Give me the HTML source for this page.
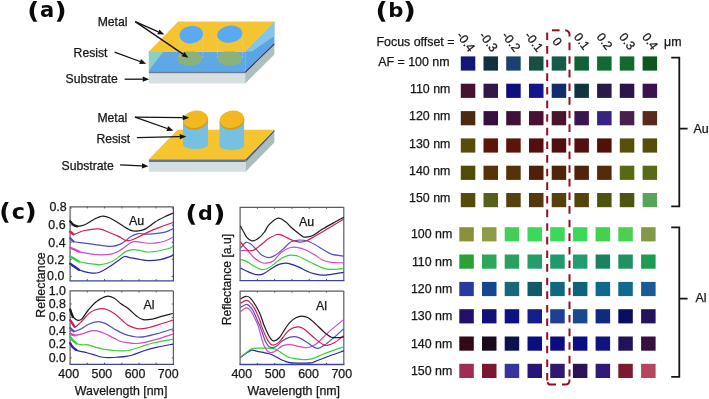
<!DOCTYPE html>
<html><head><meta charset="utf-8"><title>Figure</title>
<style>
html,body{margin:0;padding:0;background:#fff;}
body{width:709px;height:399px;overflow:hidden;}
svg{display:block;}
.t{font-family:"Liberation Sans",Arial,sans-serif;font-size:12.4px;fill:#151515;stroke:#151515;stroke-width:0.25px;}
.pl{font-family:"DejaVu Sans",sans-serif;font-weight:bold;fill:#0a0a0a;}
</style></head><body>
<svg width="709" height="399" viewBox="0 0 709 399">
<rect width="709" height="399" fill="#fff"/>
<g id="pa">
<!-- top block -->
<polygon points="148.9,51.4 245.2,51.4 245.2,71.3 148.9,71.3" fill="#5ea8e6"/>
<polygon points="148.9,51.4 163.5,51.4 148.9,70.5" fill="#8ccfc6"/>
<polygon points="245.2,51.4 274.4,21.6 274.4,42.8 245.2,71.3" fill="#5aa6e4"/>
<polygon points="245.2,51.4 274.4,21.6 274.4,36 252,51.4" fill="#84c6ea"/>
<ellipse cx="189.6" cy="58.4" rx="12.3" ry="7.6" fill="#88b27a"/>
<ellipse cx="229.8" cy="58.4" rx="12.3" ry="7.6" fill="#88b27a"/>
<polygon points="148.9,71.3 245.2,71.3 245.2,73.4 148.9,73.4" fill="#6a7890"/>
<polygon points="245.2,71.3 274.4,42.8 274.4,45 245.2,73.4" fill="#283c80"/>
<polygon points="148.9,73.4 245.2,73.4 245.2,83.6 148.9,83.6" fill="#d6e0e2"/>
<polygon points="245.2,73.4 274.4,45 274.4,54.5 245.2,83.6" fill="#aebfc0"/>
<polygon points="148.9,51.4 178.3,21.6 274.4,21.6 245.2,51.4" fill="#f6c430"/>
<g stroke="#d8d0b0" stroke-width="0.7" stroke-dasharray="2 1.5" fill="none"><line x1="179.8" y1="35" x2="179.8" y2="51"/><line x1="202.8" y1="33" x2="202.8" y2="51"/><line x1="217.4" y1="35" x2="217.4" y2="51"/><line x1="242.3" y1="33" x2="242.3" y2="51"/></g>
<g stroke="#b8c8d8" stroke-width="0.7" stroke-dasharray="2 1.5" fill="none"><line x1="179.8" y1="52" x2="179.8" y2="58"/><line x1="202.8" y1="52" x2="202.8" y2="58"/><line x1="217.4" y1="52" x2="217.4" y2="58"/><line x1="242.3" y1="52" x2="242.3" y2="58"/></g>
<ellipse cx="191.3" cy="34.6" rx="11.8" ry="8.8" fill="#58aaf2" transform="rotate(-8 191.3 34.6)"/>
<ellipse cx="229.8" cy="34.2" rx="12.6" ry="8.5" fill="#58aaf2" transform="rotate(-8 229.8 34.2)"/>
<!-- bottom block -->
<polygon points="148.9,159.3 245.6,159.3 245.6,162 148.9,162" fill="#5a76a0"/>
<polygon points="148.9,162 245.6,162 245.6,171.7 148.9,171.7" fill="#d4dede"/>
<polygon points="245.6,159.3 274.3,129.7 274.3,142.5 245.6,171.7" fill="#aabcbc"/>
<polygon points="245.6,159.3 274.3,129.7 274.3,131.8 245.6,162" fill="#4a6070"/>
<polygon points="148.9,159.3 177.5,129.7 274.3,129.7 245.6,159.3" fill="#f6c430"/>
<path d="M183,121 V144.5 A12.5,4.5 0 0 0 208,144.5 V121 Z" fill="#76c0e2"/>
<path d="M219.5,121 V145.5 A12.3,4.5 0 0 0 244.1,145.5 V121 Z" fill="#76c0e2"/>
<ellipse cx="195.6" cy="120.8" rx="12.6" ry="8.8" fill="#d69a20" transform="rotate(-10 195.6 120.8)"/>
<ellipse cx="195.3" cy="119.2" rx="12.4" ry="8.6" fill="#f3b820" transform="rotate(-10 195.3 119.2)"/>
<ellipse cx="232.1" cy="120.8" rx="12.4" ry="8.8" fill="#d69a20" transform="rotate(-10 232.1 120.8)"/>
<ellipse cx="231.8" cy="119.2" rx="12.2" ry="8.6" fill="#f3b820" transform="rotate(-10 231.8 119.2)"/>
<line x1="135.2" y1="21.6" x2="158.4" y2="31.9" stroke="#111" stroke-width="1.3"/><polygon points="164.3,34.5 157.3,34.2 159.4,29.5" fill="#111"/>
<line x1="135.2" y1="21.6" x2="183.0" y2="54.1" stroke="#111" stroke-width="1.3"/><polygon points="188.4,57.7 181.6,56.2 184.5,51.9" fill="#111"/>
<line x1="114.6" y1="52.1" x2="140.1" y2="61.5" stroke="#111" stroke-width="1.3"/><polygon points="146.2,63.8 139.2,64.0 141.0,59.1" fill="#111"/>
<line x1="124.6" y1="79.2" x2="142.7" y2="79.2" stroke="#111" stroke-width="1.3"/><polygon points="149.2,79.2 142.7,81.8 142.7,76.6" fill="#111"/>
<line x1="134.9" y1="117.2" x2="182.7" y2="117.7" stroke="#111" stroke-width="1.3"/><polygon points="189.2,117.8 182.7,120.3 182.7,115.1" fill="#111"/>
<line x1="134.9" y1="117.2" x2="167.3" y2="128.5" stroke="#111" stroke-width="1.3"/><polygon points="173.4,130.7 166.4,131.0 168.1,126.1" fill="#111"/>
<line x1="136.9" y1="137.6" x2="179.8" y2="136.7" stroke="#111" stroke-width="1.3"/><polygon points="186.3,136.6 179.9,139.3 179.7,134.1" fill="#111"/>
<line x1="120.1" y1="164.8" x2="142.0" y2="165.9" stroke="#111" stroke-width="1.3"/><polygon points="148.5,166.2 141.9,168.5 142.1,163.3" fill="#111"/></g>
<g class="t" style="font-size:12.2px">
<text x="97.7" y="26">Metal</text>
<text x="73.6" y="56.5">Resist</text>
<text x="65.6" y="83.2">Substrate</text>
<text x="97.4" y="122.2">Metal</text>
<text x="96.4" y="142.5">Resist</text>
<text x="61.5" y="169.8">Substrate</text>
</g>
<g id="grid"><rect x="460.8" y="56.4" width="14.5" height="14.2" fill="#14167a"/>
<rect x="459.3" y="227.2" width="14.5" height="14.2" fill="#8a9038"/>
<rect x="483.5" y="56.4" width="14.5" height="14.2" fill="#123040"/>
<rect x="482.0" y="227.2" width="14.5" height="14.2" fill="#8e9c46"/>
<rect x="506.2" y="56.4" width="14.5" height="14.2" fill="#1a4070"/>
<rect x="504.7" y="227.2" width="14.5" height="14.2" fill="#46cc58"/>
<rect x="529.0" y="56.4" width="14.5" height="14.2" fill="#155040"/>
<rect x="527.5" y="227.2" width="14.5" height="14.2" fill="#3cd85a"/>
<rect x="551.7" y="56.4" width="14.5" height="14.2" fill="#135c48"/>
<rect x="550.2" y="227.2" width="14.5" height="14.2" fill="#3cd85a"/>
<rect x="574.4" y="56.4" width="14.5" height="14.2" fill="#0e6234"/>
<rect x="572.9" y="227.2" width="14.5" height="14.2" fill="#3cd85a"/>
<rect x="597.1" y="56.4" width="14.5" height="14.2" fill="#106a32"/>
<rect x="595.6" y="227.2" width="14.5" height="14.2" fill="#44d050"/>
<rect x="619.8" y="56.4" width="14.5" height="14.2" fill="#126a30"/>
<rect x="618.3" y="227.2" width="14.5" height="14.2" fill="#4cd050"/>
<rect x="642.6" y="56.4" width="14.5" height="14.2" fill="#0e5620"/>
<rect x="641.1" y="227.2" width="14.5" height="14.2" fill="#829a48"/>
<rect x="460.8" y="83.7" width="14.5" height="14.2" fill="#461230"/>
<rect x="459.3" y="254.5" width="14.5" height="14.2" fill="#28a232"/>
<rect x="483.5" y="83.7" width="14.5" height="14.2" fill="#321846"/>
<rect x="482.0" y="254.5" width="14.5" height="14.2" fill="#2ca858"/>
<rect x="506.2" y="83.7" width="14.5" height="14.2" fill="#0e0e7e"/>
<rect x="504.7" y="254.5" width="14.5" height="14.2" fill="#28a060"/>
<rect x="529.0" y="83.7" width="14.5" height="14.2" fill="#12168a"/>
<rect x="527.5" y="254.5" width="14.5" height="14.2" fill="#249c6c"/>
<rect x="551.7" y="83.7" width="14.5" height="14.2" fill="#122c70"/>
<rect x="550.2" y="254.5" width="14.5" height="14.2" fill="#209a6c"/>
<rect x="574.4" y="83.7" width="14.5" height="14.2" fill="#103440"/>
<rect x="572.9" y="254.5" width="14.5" height="14.2" fill="#229c70"/>
<rect x="597.1" y="83.7" width="14.5" height="14.2" fill="#2a1a48"/>
<rect x="595.6" y="254.5" width="14.5" height="14.2" fill="#1a8262"/>
<rect x="619.8" y="83.7" width="14.5" height="14.2" fill="#2a1448"/>
<rect x="618.3" y="254.5" width="14.5" height="14.2" fill="#1e9260"/>
<rect x="642.6" y="83.7" width="14.5" height="14.2" fill="#3a1250"/>
<rect x="641.1" y="254.5" width="14.5" height="14.2" fill="#1e9c50"/>
<rect x="460.8" y="111.1" width="14.5" height="14.2" fill="#4c2a10"/>
<rect x="459.3" y="281.9" width="14.5" height="14.2" fill="#283aa0"/>
<rect x="483.5" y="111.1" width="14.5" height="14.2" fill="#381040"/>
<rect x="482.0" y="281.9" width="14.5" height="14.2" fill="#14488e"/>
<rect x="506.2" y="111.1" width="14.5" height="14.2" fill="#40103a"/>
<rect x="504.7" y="281.9" width="14.5" height="14.2" fill="#186678"/>
<rect x="529.0" y="111.1" width="14.5" height="14.2" fill="#4a1030"/>
<rect x="527.5" y="281.9" width="14.5" height="14.2" fill="#105a6c"/>
<rect x="551.7" y="111.1" width="14.5" height="14.2" fill="#4a1428"/>
<rect x="550.2" y="281.9" width="14.5" height="14.2" fill="#106880"/>
<rect x="574.4" y="111.1" width="14.5" height="14.2" fill="#3a1450"/>
<rect x="572.9" y="281.9" width="14.5" height="14.2" fill="#106478"/>
<rect x="597.1" y="111.1" width="14.5" height="14.2" fill="#382480"/>
<rect x="595.6" y="281.9" width="14.5" height="14.2" fill="#10688a"/>
<rect x="619.8" y="111.1" width="14.5" height="14.2" fill="#48204e"/>
<rect x="618.3" y="281.9" width="14.5" height="14.2" fill="#106a90"/>
<rect x="642.6" y="111.1" width="14.5" height="14.2" fill="#5a2a1c"/>
<rect x="641.1" y="281.9" width="14.5" height="14.2" fill="#185a94"/>
<rect x="460.8" y="138.4" width="14.5" height="14.2" fill="#584c0a"/>
<rect x="459.3" y="309.2" width="14.5" height="14.2" fill="#24106a"/>
<rect x="483.5" y="138.4" width="14.5" height="14.2" fill="#5c1608"/>
<rect x="482.0" y="309.2" width="14.5" height="14.2" fill="#10127a"/>
<rect x="506.2" y="138.4" width="14.5" height="14.2" fill="#5a1408"/>
<rect x="504.7" y="309.2" width="14.5" height="14.2" fill="#0e1280"/>
<rect x="529.0" y="138.4" width="14.5" height="14.2" fill="#540e0e"/>
<rect x="527.5" y="309.2" width="14.5" height="14.2" fill="#14208a"/>
<rect x="551.7" y="138.4" width="14.5" height="14.2" fill="#520e0e"/>
<rect x="550.2" y="309.2" width="14.5" height="14.2" fill="#1a4098"/>
<rect x="574.4" y="138.4" width="14.5" height="14.2" fill="#52100e"/>
<rect x="572.9" y="309.2" width="14.5" height="14.2" fill="#184890"/>
<rect x="597.1" y="138.4" width="14.5" height="14.2" fill="#52100a"/>
<rect x="595.6" y="309.2" width="14.5" height="14.2" fill="#102a80"/>
<rect x="619.8" y="138.4" width="14.5" height="14.2" fill="#56500a"/>
<rect x="618.3" y="309.2" width="14.5" height="14.2" fill="#0a0e60"/>
<rect x="642.6" y="138.4" width="14.5" height="14.2" fill="#544e0a"/>
<rect x="641.1" y="309.2" width="14.5" height="14.2" fill="#241460"/>
<rect x="460.8" y="165.7" width="14.5" height="14.2" fill="#504c08"/>
<rect x="459.3" y="336.5" width="14.5" height="14.2" fill="#340818"/>
<rect x="483.5" y="165.7" width="14.5" height="14.2" fill="#583208"/>
<rect x="482.0" y="336.5" width="14.5" height="14.2" fill="#1a0a1a"/>
<rect x="506.2" y="165.7" width="14.5" height="14.2" fill="#563208"/>
<rect x="504.7" y="336.5" width="14.5" height="14.2" fill="#0c1250"/>
<rect x="529.0" y="165.7" width="14.5" height="14.2" fill="#52200a"/>
<rect x="527.5" y="336.5" width="14.5" height="14.2" fill="#0a0e7e"/>
<rect x="551.7" y="165.7" width="14.5" height="14.2" fill="#502408"/>
<rect x="550.2" y="336.5" width="14.5" height="14.2" fill="#0a0c80"/>
<rect x="574.4" y="165.7" width="14.5" height="14.2" fill="#502408"/>
<rect x="572.9" y="336.5" width="14.5" height="14.2" fill="#0a0e80"/>
<rect x="597.1" y="165.7" width="14.5" height="14.2" fill="#542a08"/>
<rect x="595.6" y="336.5" width="14.5" height="14.2" fill="#101480"/>
<rect x="619.8" y="165.7" width="14.5" height="14.2" fill="#586a10"/>
<rect x="618.3" y="336.5" width="14.5" height="14.2" fill="#22125a"/>
<rect x="642.6" y="165.7" width="14.5" height="14.2" fill="#586a16"/>
<rect x="641.1" y="336.5" width="14.5" height="14.2" fill="#381040"/>
<rect x="460.8" y="193.0" width="14.5" height="14.2" fill="#544c08"/>
<rect x="459.3" y="363.8" width="14.5" height="14.2" fill="#a02c50"/>
<rect x="483.5" y="193.0" width="14.5" height="14.2" fill="#56601a"/>
<rect x="482.0" y="363.8" width="14.5" height="14.2" fill="#7a1830"/>
<rect x="506.2" y="193.0" width="14.5" height="14.2" fill="#54420a"/>
<rect x="504.7" y="363.8" width="14.5" height="14.2" fill="#3634a0"/>
<rect x="529.0" y="193.0" width="14.5" height="14.2" fill="#543a0a"/>
<rect x="527.5" y="363.8" width="14.5" height="14.2" fill="#2a1478"/>
<rect x="551.7" y="193.0" width="14.5" height="14.2" fill="#54420a"/>
<rect x="550.2" y="363.8" width="14.5" height="14.2" fill="#301870"/>
<rect x="574.4" y="193.0" width="14.5" height="14.2" fill="#54460a"/>
<rect x="572.9" y="363.8" width="14.5" height="14.2" fill="#2a1258"/>
<rect x="597.1" y="193.0" width="14.5" height="14.2" fill="#4e5410"/>
<rect x="595.6" y="363.8" width="14.5" height="14.2" fill="#301a78"/>
<rect x="619.8" y="193.0" width="14.5" height="14.2" fill="#4e5412"/>
<rect x="618.3" y="363.8" width="14.5" height="14.2" fill="#7c1a30"/>
<rect x="642.6" y="193.0" width="14.5" height="14.2" fill="#58a45a"/>
<rect x="641.1" y="363.8" width="14.5" height="14.2" fill="#b44660"/></g>
<g fill="none" stroke="#920e24" stroke-width="2"><line x1="547.2" y1="32.5" x2="547.2" y2="380.8" stroke-dasharray="7.6 6.02"/><line x1="569.5" y1="42.6" x2="569.5" y2="376.6" stroke-dasharray="7.6 6.02"/><line x1="552" y1="30.3" x2="559.6" y2="30.3"/><path d="M565.2,30.3 A4.3,4.3 0 0 1 569.5,34.6 V36.6"/><path d="M547.6,382.2 Q548.2,384.6 550,384.6 H556"/><path d="M562,384.6 H565.5 A4,4 0 0 0 569.5,380.6 V379.5"/></g>
<path d="M671.2,57.6 H679.3 V206.3 H671.2 M679.3,128.6 H687.6" fill="none" stroke="#151515" stroke-width="1.8"/>
<path d="M671.2,227.3 H679.3 V376.8 H671.2 M679.3,298.6 H687.6" fill="none" stroke="#151515" stroke-width="1.8"/>
<g class="t"><text x="449.5" y="65.8" text-anchor="end">AF = 100 nm</text>
<text x="452.3" y="238.2" text-anchor="end">100 nm</text>
<text x="450.4" y="93.0" text-anchor="end">110 nm</text>
<text x="452.3" y="265.5" text-anchor="end">110 nm</text>
<text x="450.4" y="120.4" text-anchor="end">120 nm</text>
<text x="452.3" y="292.9" text-anchor="end">120 nm</text>
<text x="450.4" y="147.7" text-anchor="end">130 nm</text>
<text x="452.3" y="320.2" text-anchor="end">130 nm</text>
<text x="450.4" y="175.0" text-anchor="end">140 nm</text>
<text x="452.3" y="347.5" text-anchor="end">140 nm</text>
<text x="450.4" y="202.3" text-anchor="end">150 nm</text>
<text x="452.3" y="374.8" text-anchor="end">150 nm</text>
<text x="376.5" y="45.9">Focus offset =</text>
<text transform="translate(455.9,35.8) rotate(52)" x="0" y="0">-0.4</text>
<text transform="translate(478.6,35.8) rotate(52)" x="0" y="0">-0.3</text>
<text transform="translate(501.3,35.8) rotate(52)" x="0" y="0">-0.2</text>
<text transform="translate(524.1,35.8) rotate(52)" x="0" y="0">-0.1</text>
<text transform="translate(551.7,41.5) rotate(52)" x="0" y="0">0</text>
<text transform="translate(573.2,37.0) rotate(52)" x="0" y="0">0.1</text>
<text transform="translate(595.9,37.0) rotate(52)" x="0" y="0">0.2</text>
<text transform="translate(618.6,37.0) rotate(52)" x="0" y="0">0.3</text>
<text transform="translate(641.4,37.0) rotate(52)" x="0" y="0">0.4</text>
<text x="664" y="46">μm</text>
<text x="693.6" y="133">Au</text>
<text x="695.6" y="301.8">Al</text></g>
<g id="plots"><path d="M70.1,280.8 V206.8 H173.4" fill="none" stroke="#5a5a62" stroke-width="1.2"/><line x1="173.4" y1="206.8" x2="173.4" y2="280.8" stroke="#3c44a0" stroke-width="1.2"/><line x1="69.5" y1="280.8" x2="174.0" y2="280.8" stroke="#3c44a0" stroke-width="1.3"/><line x1="87.3" y1="206.8" x2="87.3" y2="208.4" stroke="#5a5a62" stroke-width="1"/><line x1="87.3" y1="280.8" x2="87.3" y2="279.2" stroke="#3c44a0" stroke-width="1"/><line x1="104.5" y1="206.8" x2="104.5" y2="208.4" stroke="#5a5a62" stroke-width="1"/><line x1="104.5" y1="280.8" x2="104.5" y2="279.2" stroke="#3c44a0" stroke-width="1"/><line x1="121.8" y1="206.8" x2="121.8" y2="208.4" stroke="#5a5a62" stroke-width="1"/><line x1="121.8" y1="280.8" x2="121.8" y2="279.2" stroke="#3c44a0" stroke-width="1"/><line x1="139.0" y1="206.8" x2="139.0" y2="208.4" stroke="#5a5a62" stroke-width="1"/><line x1="139.0" y1="280.8" x2="139.0" y2="279.2" stroke="#3c44a0" stroke-width="1"/><line x1="156.2" y1="206.8" x2="156.2" y2="208.4" stroke="#5a5a62" stroke-width="1"/><line x1="156.2" y1="280.8" x2="156.2" y2="279.2" stroke="#3c44a0" stroke-width="1"/><path d="M70.1,364.4 V290.9 H173.4" fill="none" stroke="#5a5a62" stroke-width="1.2"/><line x1="173.4" y1="290.9" x2="173.4" y2="364.4" stroke="#5a5a62" stroke-width="1.2"/><line x1="69.5" y1="364.4" x2="174.0" y2="364.4" stroke="#3c44a0" stroke-width="1.3"/><line x1="87.3" y1="290.9" x2="87.3" y2="292.5" stroke="#5a5a62" stroke-width="1"/><line x1="87.3" y1="364.4" x2="87.3" y2="362.8" stroke="#3c44a0" stroke-width="1"/><line x1="104.5" y1="290.9" x2="104.5" y2="292.5" stroke="#5a5a62" stroke-width="1"/><line x1="104.5" y1="364.4" x2="104.5" y2="362.8" stroke="#3c44a0" stroke-width="1"/><line x1="121.8" y1="290.9" x2="121.8" y2="292.5" stroke="#5a5a62" stroke-width="1"/><line x1="121.8" y1="364.4" x2="121.8" y2="362.8" stroke="#3c44a0" stroke-width="1"/><line x1="139.0" y1="290.9" x2="139.0" y2="292.5" stroke="#5a5a62" stroke-width="1"/><line x1="139.0" y1="364.4" x2="139.0" y2="362.8" stroke="#3c44a0" stroke-width="1"/><line x1="156.2" y1="290.9" x2="156.2" y2="292.5" stroke="#5a5a62" stroke-width="1"/><line x1="156.2" y1="364.4" x2="156.2" y2="362.8" stroke="#3c44a0" stroke-width="1"/><path d="M240.1,280.6 V207.3 H343.8" fill="none" stroke="#5a5a62" stroke-width="1.2"/><line x1="343.8" y1="207.3" x2="343.8" y2="280.6" stroke="#5a5a70" stroke-width="1.2"/><line x1="239.5" y1="280.6" x2="344.4" y2="280.6" stroke="#3c44a0" stroke-width="1.3"/><line x1="257.4" y1="207.3" x2="257.4" y2="208.9" stroke="#5a5a62" stroke-width="1"/><line x1="257.4" y1="280.6" x2="257.4" y2="279.0" stroke="#3c44a0" stroke-width="1"/><line x1="274.7" y1="207.3" x2="274.7" y2="208.9" stroke="#5a5a62" stroke-width="1"/><line x1="274.7" y1="280.6" x2="274.7" y2="279.0" stroke="#3c44a0" stroke-width="1"/><line x1="291.9" y1="207.3" x2="291.9" y2="208.9" stroke="#5a5a62" stroke-width="1"/><line x1="291.9" y1="280.6" x2="291.9" y2="279.0" stroke="#3c44a0" stroke-width="1"/><line x1="309.2" y1="207.3" x2="309.2" y2="208.9" stroke="#5a5a62" stroke-width="1"/><line x1="309.2" y1="280.6" x2="309.2" y2="279.0" stroke="#3c44a0" stroke-width="1"/><line x1="326.5" y1="207.3" x2="326.5" y2="208.9" stroke="#5a5a62" stroke-width="1"/><line x1="326.5" y1="280.6" x2="326.5" y2="279.0" stroke="#3c44a0" stroke-width="1"/><path d="M240.1,364.5 V291.1 H343.8" fill="none" stroke="#5a5a62" stroke-width="1.2"/><line x1="343.8" y1="291.1" x2="343.8" y2="364.5" stroke="#5a5a70" stroke-width="1.2"/><line x1="239.5" y1="364.5" x2="344.4" y2="364.5" stroke="#3c44a0" stroke-width="1.3"/><line x1="257.4" y1="291.1" x2="257.4" y2="292.7" stroke="#5a5a62" stroke-width="1"/><line x1="257.4" y1="364.5" x2="257.4" y2="362.9" stroke="#3c44a0" stroke-width="1"/><line x1="274.7" y1="291.1" x2="274.7" y2="292.7" stroke="#5a5a62" stroke-width="1"/><line x1="274.7" y1="364.5" x2="274.7" y2="362.9" stroke="#3c44a0" stroke-width="1"/><line x1="291.9" y1="291.1" x2="291.9" y2="292.7" stroke="#5a5a62" stroke-width="1"/><line x1="291.9" y1="364.5" x2="291.9" y2="362.9" stroke="#3c44a0" stroke-width="1"/><line x1="309.2" y1="291.1" x2="309.2" y2="292.7" stroke="#5a5a62" stroke-width="1"/><line x1="309.2" y1="364.5" x2="309.2" y2="362.9" stroke="#3c44a0" stroke-width="1"/><line x1="326.5" y1="291.1" x2="326.5" y2="292.7" stroke="#5a5a62" stroke-width="1"/><line x1="326.5" y1="364.5" x2="326.5" y2="362.9" stroke="#3c44a0" stroke-width="1"/><line x1="70.1" y1="276.4" x2="71.7" y2="276.4" stroke="#5a5a62" stroke-width="1"/><line x1="173.4" y1="276.4" x2="171.8" y2="276.4" stroke="#3c44a0" stroke-width="1"/><line x1="70.1" y1="259.3" x2="71.7" y2="259.3" stroke="#5a5a62" stroke-width="1"/><line x1="173.4" y1="259.3" x2="171.8" y2="259.3" stroke="#3c44a0" stroke-width="1"/><line x1="70.1" y1="242.2" x2="71.7" y2="242.2" stroke="#5a5a62" stroke-width="1"/><line x1="173.4" y1="242.2" x2="171.8" y2="242.2" stroke="#3c44a0" stroke-width="1"/><line x1="70.1" y1="225.1" x2="71.7" y2="225.1" stroke="#5a5a62" stroke-width="1"/><line x1="173.4" y1="225.1" x2="171.8" y2="225.1" stroke="#3c44a0" stroke-width="1"/><line x1="70.1" y1="208.0" x2="71.7" y2="208.0" stroke="#5a5a62" stroke-width="1"/><line x1="173.4" y1="208.0" x2="171.8" y2="208.0" stroke="#3c44a0" stroke-width="1"/><line x1="70.1" y1="357.9" x2="71.7" y2="357.9" stroke="#5a5a62" stroke-width="1"/><line x1="173.4" y1="357.9" x2="171.8" y2="357.9" stroke="#5a5a62" stroke-width="1"/><line x1="70.1" y1="344.4" x2="71.7" y2="344.4" stroke="#5a5a62" stroke-width="1"/><line x1="173.4" y1="344.4" x2="171.8" y2="344.4" stroke="#5a5a62" stroke-width="1"/><line x1="70.1" y1="330.9" x2="71.7" y2="330.9" stroke="#5a5a62" stroke-width="1"/><line x1="173.4" y1="330.9" x2="171.8" y2="330.9" stroke="#5a5a62" stroke-width="1"/><line x1="70.1" y1="317.5" x2="71.7" y2="317.5" stroke="#5a5a62" stroke-width="1"/><line x1="173.4" y1="317.5" x2="171.8" y2="317.5" stroke="#5a5a62" stroke-width="1"/><line x1="70.1" y1="304.0" x2="71.7" y2="304.0" stroke="#5a5a62" stroke-width="1"/><line x1="173.4" y1="304.0" x2="171.8" y2="304.0" stroke="#5a5a62" stroke-width="1"/><path d="M70.2,263.7 C71.7,264.7 75.7,268.3 79.0,269.8 C82.3,271.3 86.7,272.4 90.0,272.9 C93.3,273.3 95.6,273.6 98.9,272.5 C102.2,271.4 106.8,268.4 109.9,266.5 C113.0,264.6 115.2,262.7 117.6,261.0 C120.0,259.3 122.3,257.1 124.3,256.5 C126.3,255.9 127.2,257.1 129.8,257.6 C132.4,258.1 136.9,259.0 140.0,259.5 C143.1,260.0 144.7,260.6 148.1,260.6 C151.5,260.6 156.5,260.3 160.2,259.6 C163.9,258.9 168.0,257.4 170.2,256.6 C172.4,255.8 172.7,254.9 173.2,254.6" fill="none" stroke="#2828a8" stroke-width="1.2"/><path d="M70.2,263.7 C71.7,264.7 77.5,268.8 79.0,269.8" fill="none" stroke="#2828a8" stroke-width="2.3" stroke-linecap="round"/><path d="M70.2,256.5 C71.7,257.3 75.7,260.3 79.0,261.5 C82.3,262.7 86.3,263.2 90.0,263.7 C93.7,264.2 97.4,264.9 101.1,264.5 C104.8,264.1 109.0,262.9 112.1,261.5 C115.2,260.1 117.6,257.6 119.8,256.0 C122.0,254.3 123.2,252.7 125.4,251.6 C127.6,250.5 130.7,249.9 133.1,249.7 C135.5,249.5 137.5,250.1 140.0,250.5 C142.5,250.9 144.7,252.0 148.1,252.0 C151.5,252.0 156.5,251.2 160.2,250.5 C163.9,249.8 168.0,248.8 170.2,248.0 C172.4,247.2 172.7,246.3 173.2,246.0" fill="none" stroke="#38d038" stroke-width="1.2"/><path d="M70.2,256.5 C71.7,257.3 77.5,260.7 79.0,261.5" fill="none" stroke="#38d038" stroke-width="2.3" stroke-linecap="round"/><path d="M70.2,247.7 C71.7,248.3 75.7,250.6 79.0,251.6 C82.3,252.6 86.3,253.2 90.0,253.8 C93.7,254.4 97.4,254.9 101.1,254.9 C104.8,254.9 109.0,254.5 112.1,253.8 C115.2,253.1 117.6,251.7 119.8,250.5 C122.0,249.3 123.7,247.8 125.4,246.6 C127.1,245.4 128.3,244.1 129.8,243.3 C131.3,242.5 132.5,241.9 134.2,241.7 C135.9,241.5 138.3,241.9 140.1,242.1 C141.9,242.3 142.6,242.8 145.1,243.0 C147.6,243.2 151.8,243.4 155.1,243.1 C158.4,242.8 162.2,242.0 165.2,241.0 C168.2,240.0 171.9,237.9 173.2,237.3" fill="none" stroke="#d448c4" stroke-width="1.2"/><path d="M70.2,247.7 C71.7,248.3 77.5,250.9 79.0,251.6" fill="none" stroke="#d448c4" stroke-width="2.3" stroke-linecap="round"/><path d="M70.2,238.2 C70.8,238.8 71.1,240.7 73.5,241.5 C75.9,242.3 79.9,242.5 84.5,243.2 C89.1,243.8 96.5,244.9 101.1,245.4 C105.7,245.9 109.0,246.6 112.1,246.4 C115.2,246.2 117.6,245.3 119.8,244.4 C122.0,243.5 123.7,242.3 125.4,241.1 C127.1,239.9 128.0,238.3 130.1,237.1 C132.2,235.8 135.6,234.1 138.1,233.6 C140.6,233.1 142.3,234.1 145.1,234.1 C147.9,234.1 151.8,233.9 155.1,233.6 C158.4,233.3 162.2,232.9 165.2,232.1 C168.2,231.3 171.9,229.2 173.2,228.6" fill="none" stroke="#5050c0" stroke-width="1.2"/><path d="M70.2,238.2 C70.8,238.8 73.0,240.9 73.5,241.5" fill="none" stroke="#5050c0" stroke-width="2.3" stroke-linecap="round"/><path d="M70.2,231.6 C70.8,232.1 71.1,234.6 73.5,234.4 C75.9,234.2 80.3,231.4 84.5,230.5 C88.7,229.6 94.7,228.5 98.9,228.9 C103.1,229.3 106.7,231.5 109.9,232.7 C113.1,233.9 115.5,234.9 118.0,236.1 C120.5,237.3 123.2,239.3 125.0,240.1 C126.8,240.8 127.7,240.7 129.0,240.6 C130.3,240.5 131.2,240.2 133.0,239.5 C134.8,238.8 137.2,237.5 140.1,236.1 C142.9,234.7 146.8,232.6 150.1,231.1 C153.4,229.6 156.3,228.5 160.2,227.1 C164.0,225.7 171.0,223.3 173.2,222.5" fill="none" stroke="#d41e50" stroke-width="1.2"/><path d="M70.2,231.6 C70.8,232.1 73.0,233.9 73.5,234.4" fill="none" stroke="#d41e50" stroke-width="2.3" stroke-linecap="round"/><path d="M70.2,221.4 C70.8,222.0 72.3,224.2 73.5,225.0 C74.7,225.8 75.4,226.3 77.3,226.3 C79.2,226.3 82.0,225.9 84.8,224.8 C87.5,223.7 90.9,220.9 93.8,219.5 C96.7,218.1 99.4,216.4 102.1,216.2 C104.8,215.9 107.0,216.7 110.0,218.0 C113.0,219.3 116.7,222.1 120.0,224.1 C123.3,226.1 127.2,228.9 130.1,230.1 C132.9,231.3 134.6,231.3 137.1,231.1 C139.6,230.9 142.1,230.6 145.1,229.1 C148.1,227.6 151.8,224.1 155.1,222.0 C158.4,219.9 162.2,218.0 165.2,216.5 C168.2,215.0 171.9,213.6 173.2,213.0" fill="none" stroke="#1a1a1a" stroke-width="1.2"/><path d="M70.2,221.4 C70.8,222.0 72.3,224.2 73.5,225.0 C74.7,225.8 76.7,226.1 77.3,226.3" fill="none" stroke="#1a1a1a" stroke-width="2.3" stroke-linecap="round"/><path d="M70.2,343.1 C70.5,343.7 71.1,345.2 72.1,346.4 C73.1,347.6 74.2,349.1 76.3,350.1 C78.4,351.1 81.8,351.5 84.5,352.2 C87.2,352.9 90.0,353.5 92.8,354.3 C95.6,355.1 98.3,356.4 101.1,357.0 C103.9,357.6 106.7,357.6 109.4,357.6 C112.2,357.6 114.8,357.4 117.6,357.2 C120.4,357.0 123.5,356.8 126.0,356.4 C128.5,356.0 129.3,356.0 132.4,355.0 C135.5,354.0 140.7,351.8 144.8,350.5 C148.9,349.2 152.5,348.2 157.2,347.2 C161.9,346.1 170.3,344.7 172.9,344.2" fill="none" stroke="#2828a8" stroke-width="1.2"/><path d="M70.2,343.1 C70.5,343.7 71.1,345.2 72.1,346.4 C73.1,347.6 75.6,349.5 76.3,350.1" fill="none" stroke="#2828a8" stroke-width="2.3" stroke-linecap="round"/><path d="M70.2,336.9 C70.7,337.5 72.0,339.5 73.0,340.6 C74.0,341.7 74.8,342.8 76.3,343.5 C77.8,344.2 80.2,344.6 82.1,344.8 C84.0,345.0 85.4,344.3 87.9,344.8 C90.4,345.3 93.8,346.8 97.0,347.6 C100.2,348.4 104.0,349.2 106.9,349.7 C109.8,350.2 112.1,350.3 114.3,350.5 C116.5,350.7 117.7,350.8 120.0,350.8 C122.3,350.8 124.9,351.2 128.3,350.5 C131.8,349.8 136.6,348.1 140.7,346.8 C144.8,345.6 147.7,344.3 153.1,343.0 C158.5,341.7 169.6,339.8 172.9,339.2" fill="none" stroke="#38d038" stroke-width="1.2"/><path d="M70.2,336.9 C70.7,337.5 72.0,339.5 73.0,340.6 C74.0,341.7 75.8,343.0 76.3,343.5" fill="none" stroke="#38d038" stroke-width="2.3" stroke-linecap="round"/><path d="M70.2,333.8 C70.9,334.1 72.6,335.4 74.6,335.4 C76.6,335.4 79.3,334.6 82.1,333.8 C84.9,333.1 88.7,331.4 91.2,330.9 C93.7,330.4 94.6,330.4 96.9,330.9 C99.2,331.4 102.4,332.6 105.2,333.8 C108.0,335.0 111.0,336.7 113.5,337.9 C116.0,339.1 117.5,340.4 120.0,341.2 C122.5,342.0 125.6,342.4 128.3,342.8 C131.1,343.2 133.8,343.6 136.5,343.5 C139.2,343.4 141.4,343.1 144.8,342.4 C148.2,341.7 152.5,340.5 157.2,339.1 C161.9,337.7 170.3,334.9 172.9,334.1" fill="none" stroke="#d448c4" stroke-width="1.2"/><path d="M70.2,333.8 C70.9,334.1 73.9,335.1 74.6,335.4" fill="none" stroke="#d448c4" stroke-width="2.3" stroke-linecap="round"/><path d="M70.2,328.0 C70.8,328.6 72.1,331.1 73.8,331.3 C75.5,331.5 77.9,330.4 80.4,329.2 C82.9,328.0 85.8,325.6 88.7,324.3 C91.6,323.0 95.0,321.8 97.8,321.6 C100.5,321.5 102.6,322.3 105.2,323.4 C107.8,324.5 111.0,326.9 113.5,328.4 C116.0,329.8 117.5,330.9 120.0,332.1 C122.5,333.3 125.6,334.6 128.3,335.4 C131.1,336.2 133.8,336.8 136.5,337.0 C139.2,337.2 141.4,337.2 144.8,336.6 C148.2,336.1 152.5,335.0 157.2,333.7 C161.9,332.4 170.3,329.6 172.9,328.8" fill="none" stroke="#5050c0" stroke-width="1.2"/><path d="M70.2,328.0 C70.8,328.6 73.2,330.8 73.8,331.3" fill="none" stroke="#5050c0" stroke-width="2.3" stroke-linecap="round"/><path d="M70.2,320.1 C70.9,321.2 72.9,326.4 74.6,326.8 C76.3,327.2 78.1,324.8 80.4,322.6 C82.8,320.4 86.3,315.7 88.7,313.6 C91.1,311.5 92.9,310.8 95.0,310.0 C97.1,309.2 99.1,308.8 101.1,308.7 C103.1,308.6 104.7,308.7 106.9,309.5 C109.1,310.3 111.7,311.7 114.3,313.6 C116.9,315.5 120.3,318.7 122.6,320.7 C124.9,322.7 125.7,324.0 128.3,325.4 C130.9,326.8 134.8,328.4 138.2,328.8 C141.6,329.2 145.1,328.3 149.0,327.5 C152.9,326.7 157.4,325.0 161.4,323.8 C165.4,322.6 171.0,320.7 172.9,320.1" fill="none" stroke="#d41e50" stroke-width="1.2"/><path d="M70.2,320.1 C70.9,321.2 73.9,325.7 74.6,326.8" fill="none" stroke="#d41e50" stroke-width="2.3" stroke-linecap="round"/><path d="M70.2,309.5 C70.4,310.2 71.0,312.2 71.5,313.5 C72.0,314.8 71.9,315.9 73.0,317.0 C74.1,318.1 76.4,320.1 77.9,320.4 C79.4,320.7 80.3,320.4 82.1,318.6 C83.9,316.8 86.2,312.4 88.7,309.5 C91.2,306.6 93.9,303.4 96.9,301.2 C99.9,299.0 104.0,296.8 106.9,296.3 C109.8,295.8 112.0,297.1 114.3,298.3 C116.6,299.5 118.6,302.0 120.9,303.7 C123.2,305.4 125.7,306.4 128.3,308.5 C130.9,310.6 134.0,314.1 136.5,316.0 C139.0,317.9 140.4,319.2 143.2,319.7 C146.0,320.2 150.1,319.4 153.1,318.9 C156.1,318.3 158.1,317.3 161.4,316.4 C164.7,315.5 171.0,314.0 172.9,313.5" fill="none" stroke="#1a1a1a" stroke-width="1.2"/><path d="M70.2,309.5 C70.4,310.2 71.0,312.2 71.5,313.5 C72.0,314.8 72.8,316.4 73.0,317.0" fill="none" stroke="#1a1a1a" stroke-width="2.3" stroke-linecap="round"/><path d="M240.5,268.1 C241.8,268.7 245.7,270.8 248.4,271.9 C251.1,273.0 254.2,274.4 256.7,274.7 C259.2,275.0 260.8,274.9 263.3,273.9 C265.8,272.9 269.0,270.1 271.6,268.5 C274.2,266.9 276.7,265.3 279.0,264.4 C281.3,263.5 283.8,263.3 285.6,263.2 C287.4,263.1 287.9,263.2 290.0,263.8 C292.1,264.4 295.6,265.7 298.3,266.9 C301.1,268.1 303.8,269.8 306.5,271.0 C309.2,272.2 312.0,273.2 314.8,273.9 C317.6,274.6 320.3,275.1 323.1,275.2 C325.9,275.3 327.9,274.8 331.4,274.3 C334.8,273.8 341.7,272.6 343.8,272.3" fill="none" stroke="#2828a8" stroke-width="1.2"/><path d="M240.5,259.4 C241.4,259.7 243.9,260.1 245.9,261.1 C247.9,262.1 250.0,263.8 252.5,265.2 C255.0,266.6 258.3,268.8 260.8,269.4 C263.3,269.9 264.9,269.6 267.4,268.5 C269.9,267.4 273.2,264.6 275.7,262.8 C278.2,261.0 280.1,259.1 282.3,257.8 C284.5,256.6 286.9,255.7 288.9,255.3 C290.8,254.9 292.4,255.1 294.0,255.3 C295.6,255.5 296.2,255.5 298.3,256.3 C300.4,257.1 303.8,259.0 306.5,260.3 C309.2,261.6 312.0,263.1 314.8,264.4 C317.6,265.7 320.3,267.3 323.1,268.1 C325.9,268.9 327.9,269.3 331.4,269.4 C334.8,269.5 341.7,268.6 343.8,268.5" fill="none" stroke="#38d038" stroke-width="1.2"/><path d="M240.5,250.7 C241.7,250.7 245.3,249.7 247.6,250.9 C249.9,252.1 252.0,255.9 254.2,257.8 C256.4,259.7 258.9,261.4 260.8,262.3 C262.7,263.2 263.7,263.4 265.8,263.2 C267.9,263.0 270.6,262.8 273.2,261.0 C275.8,259.2 278.7,254.5 281.5,252.3 C284.3,250.1 287.3,248.6 289.8,247.8 C292.3,247.0 293.8,247.0 296.6,247.4 C299.4,247.8 303.5,249.0 306.5,250.3 C309.5,251.6 312.0,253.3 314.8,255.0 C317.6,256.7 320.3,259.1 323.1,260.3 C325.9,261.5 327.9,261.9 331.4,262.3 C334.8,262.7 341.7,262.7 343.8,262.8" fill="none" stroke="#d448c4" stroke-width="1.2"/><path d="M240.5,248.2 C241.4,247.2 244.2,243.1 245.9,242.4 C247.6,241.7 249.1,242.8 250.9,244.1 C252.7,245.3 254.8,248.0 256.7,249.9 C258.6,251.8 260.4,254.3 262.5,255.6 C264.6,256.9 266.9,257.7 269.1,257.6 C271.3,257.5 273.2,256.6 275.7,255.0 C278.2,253.4 281.6,250.3 284.0,248.2 C286.4,246.1 288.2,243.7 290.0,242.5 C291.8,241.3 293.4,241.2 295.0,240.8 C296.6,240.4 298.0,240.0 299.9,240.0 C301.8,240.0 304.0,240.1 306.5,240.8 C309.0,241.6 312.0,243.1 314.8,244.5 C317.6,245.9 320.3,247.9 323.1,249.5 C325.9,251.1 327.9,253.0 331.4,254.1 C334.8,255.2 341.7,255.8 343.8,256.1" fill="none" stroke="#5050c0" stroke-width="1.2"/><path d="M240.5,242.0 C241.0,242.6 242.1,244.3 243.4,245.7 C244.7,247.1 246.6,249.8 248.4,250.5 C250.2,251.2 252.1,250.8 254.2,249.9 C256.3,249.0 258.3,246.8 260.8,244.9 C263.3,243.0 266.3,240.0 269.1,238.3 C271.9,236.6 274.9,234.8 277.4,234.5 C279.9,234.2 281.9,235.4 284.0,236.2 C286.1,237.0 288.3,238.4 290.0,239.2 C291.7,240.0 292.5,240.3 294.1,240.8 C295.8,241.3 297.8,242.1 299.9,242.1 C302.0,242.1 304.0,241.8 306.5,240.8 C309.0,239.8 311.1,238.4 314.8,236.3 C318.5,234.2 324.1,230.9 328.9,228.0 C333.7,225.1 341.3,220.4 343.8,218.9" fill="none" stroke="#d41e50" stroke-width="1.2"/><path d="M240.5,225.9 C240.8,226.6 241.5,228.1 242.6,230.0 C243.7,231.9 245.3,235.6 246.8,237.4 C248.3,239.2 249.9,240.5 251.7,240.8 C253.5,241.1 255.4,240.5 257.5,239.1 C259.6,237.7 262.2,234.9 264.1,232.5 C266.0,230.1 266.8,227.1 269.1,224.7 C271.5,222.3 275.4,218.7 278.2,218.2 C280.9,217.7 283.6,220.5 285.6,221.8 C287.6,223.2 288.3,224.7 290.0,226.3 C291.7,227.9 293.7,229.6 295.8,231.3 C297.9,233.0 300.9,235.3 302.4,236.3 C303.9,237.3 303.2,237.2 304.9,237.1 C306.5,237.0 309.3,237.2 312.3,235.8 C315.3,234.4 319.2,231.1 323.1,228.8 C327.0,226.5 332.1,223.7 335.5,221.8 C338.9,219.9 342.4,218.0 343.8,217.2" fill="none" stroke="#1a1a1a" stroke-width="1.2"/><path d="M240.5,357.5 C241.4,356.8 244.0,354.6 245.9,353.4 C247.8,352.2 249.8,350.5 251.7,350.2 C253.6,349.9 254.6,350.7 257.5,351.3 C260.4,351.9 266.1,352.9 269.1,353.8 C272.1,354.7 273.2,355.5 275.7,356.7 C278.2,357.9 281.3,359.8 284.0,360.8 C286.7,361.8 287.6,362.5 292.0,362.8 C296.4,363.1 306.9,363.1 310.7,362.9 C314.5,362.7 312.1,362.6 314.8,361.6 C317.6,360.6 322.4,358.5 327.2,356.7 C332.0,354.9 341.0,351.9 343.8,350.9" fill="none" stroke="#2828a8" stroke-width="1.2"/><path d="M240.5,357.1 C241.8,356.1 246.2,352.3 248.4,350.9 C250.6,349.4 250.8,348.8 253.4,348.4 C256.0,347.9 260.8,348.2 264.1,348.2 C267.4,348.2 270.6,347.8 273.2,348.4 C275.8,349.0 277.4,350.3 279.8,351.7 C282.2,353.1 285.3,355.6 287.3,356.7 C289.3,357.8 290.2,357.6 292.0,358.0 C293.8,358.4 295.2,359.0 298.3,359.2 C301.4,359.4 306.6,360.0 310.7,359.2 C314.8,358.4 317.6,356.3 323.1,354.2 C328.6,352.1 340.4,348.0 343.8,346.8" fill="none" stroke="#38d038" stroke-width="1.2"/><path d="M240.5,311.6 C241.4,311.0 244.5,308.3 245.9,307.9 C247.3,307.5 248.1,308.2 249.2,309.1 C250.3,310.1 251.4,311.7 252.5,313.6 C253.6,315.5 254.9,318.6 255.9,320.7 C256.9,322.8 256.9,322.2 258.3,326.4 C259.7,330.6 262.2,341.6 264.1,346.0 C266.0,350.4 268.0,351.7 269.9,352.5 C271.8,353.3 273.6,352.0 275.7,350.9 C277.8,349.8 279.9,346.9 282.3,345.9 C284.7,344.8 287.3,344.5 290.0,344.6 C292.7,344.7 295.6,345.8 298.3,346.3 C301.1,346.8 304.2,347.7 306.5,347.7 C308.8,347.7 310.2,347.3 312.3,346.3 C314.4,345.3 316.4,343.9 318.9,341.7 C321.4,339.5 324.3,336.1 327.2,333.4 C330.1,330.7 333.5,327.9 336.3,325.6 C339.1,323.3 342.6,320.4 343.8,319.4" fill="none" stroke="#d448c4" stroke-width="1.2"/><path d="M240.5,307.4 C241.4,306.9 244.5,304.8 245.9,304.5 C247.3,304.2 247.9,304.7 249.2,305.8 C250.4,306.9 252.0,308.7 253.4,311.2 C254.8,313.7 256.4,318.2 257.5,320.7 C258.6,323.2 258.6,322.8 260.0,326.4 C261.4,330.0 264.2,338.7 265.8,342.1 C267.4,345.5 268.0,346.2 269.6,347.0 C271.2,347.8 273.6,347.8 275.7,346.8 C277.8,345.8 279.9,342.6 282.3,341.0 C284.7,339.4 287.6,337.9 290.0,337.2 C292.4,336.5 294.1,336.2 296.6,336.8 C299.1,337.4 302.1,339.2 304.9,340.9 C307.7,342.5 311.0,345.5 313.2,346.7 C315.4,347.9 316.2,348.6 318.1,348.3 C320.0,348.0 321.9,346.9 324.7,345.0 C327.5,343.1 331.5,339.5 334.7,336.8 C337.9,334.1 342.3,330.0 343.8,328.6" fill="none" stroke="#5050c0" stroke-width="1.2"/><path d="M240.5,303.3 C241.4,302.8 244.5,300.7 245.9,300.4 C247.3,300.1 247.8,300.4 249.2,301.6 C250.6,302.9 252.4,304.7 254.2,307.9 C256.0,311.1 258.8,317.6 260.0,320.7 C261.2,323.8 260.4,323.2 261.6,326.4 C262.8,329.5 265.6,336.5 267.4,339.6 C269.2,342.7 270.5,344.6 272.4,345.0 C274.3,345.4 276.8,344.0 279.0,342.1 C281.2,340.2 283.8,336.0 285.6,333.9 C287.4,331.8 288.0,330.6 290.0,329.4 C292.0,328.2 295.3,327.1 297.4,326.9 C299.5,326.7 300.9,327.4 302.4,328.1 C303.9,328.8 304.4,329.3 306.5,331.0 C308.6,332.7 312.0,336.1 314.8,338.4 C317.6,340.7 321.0,343.4 323.1,344.6 C325.2,345.8 325.3,345.8 327.2,345.4 C329.1,345.0 331.9,344.1 334.7,342.5 C337.5,340.9 342.3,336.7 343.8,335.5" fill="none" stroke="#d41e50" stroke-width="1.2"/><path d="M240.5,298.8 C241.4,298.4 244.3,296.5 245.9,296.3 C247.5,296.1 248.6,296.5 250.1,297.9 C251.6,299.3 253.5,302.1 255.0,304.5 C256.5,306.9 257.9,309.3 259.2,312.0 C260.4,314.7 261.7,318.4 262.5,320.7 C263.3,323.0 263.0,323.0 264.1,325.6 C265.2,328.2 267.6,333.8 269.1,336.3 C270.6,338.9 271.6,340.6 273.2,340.9 C274.8,341.2 276.9,340.1 279.0,338.0 C281.1,335.9 283.8,330.7 285.6,328.1 C287.4,325.5 288.3,324.0 290.0,322.3 C291.7,320.6 293.9,318.8 295.8,317.8 C297.7,316.8 299.5,316.1 301.6,316.1 C303.7,316.1 306.0,316.6 308.2,317.8 C310.4,319.0 311.9,320.6 314.8,323.2 C317.7,325.8 322.8,331.1 325.6,333.4 C328.4,335.7 329.3,336.5 331.4,337.2 C333.5,337.9 335.9,337.7 338.0,337.6 C340.1,337.5 342.8,336.9 343.8,336.8" fill="none" stroke="#1a1a1a" stroke-width="1.2"/></g>
<g class="t"><text x="66.7" y="210.7" text-anchor="end">0.8</text>
<text x="65.6" y="229.1" text-anchor="end">0.6</text>
<text x="65.6" y="246.5" text-anchor="end">0.4</text>
<text x="64.3" y="263.9" text-anchor="end">0.2</text>
<text x="64.3" y="280.1" text-anchor="end">0.0</text>
<text x="65.9" y="294.6" text-anchor="end">1.0</text>
<text x="65.9" y="308.0" text-anchor="end">0.8</text>
<text x="65.9" y="321.4" text-anchor="end">0.6</text>
<text x="65.9" y="334.9" text-anchor="end">0.4</text>
<text x="65.9" y="348.3" text-anchor="end">0.2</text>
<text x="65.9" y="361.7" text-anchor="end">0.0</text>
<text x="68.7" y="377.6" text-anchor="middle">400</text>
<text x="241.8" y="377.8" text-anchor="middle">400</text>
<text x="101.9" y="377.6" text-anchor="middle">500</text>
<text x="275.1" y="377.8" text-anchor="middle">500</text>
<text x="135.0" y="377.6" text-anchor="middle">600</text>
<text x="308.5" y="377.8" text-anchor="middle">600</text>
<text x="168.2" y="377.6" text-anchor="middle">700</text>
<text x="341.8" y="377.8" text-anchor="middle">700</text>
<text x="121.1" y="394.5" text-anchor="middle">Wavelength [nm]</text>
<text x="293.8" y="394.5" text-anchor="middle">Wavelength [nm]</text>
<text transform="translate(44.8,285) rotate(-90)" text-anchor="middle">Reflectance</text>
<text transform="translate(230.9,279.6) rotate(-90)" text-anchor="middle" style="font-size:12.2px">Reflectance [a.u]</text>
<text x="129" y="225.1">Au</text>
<text x="299.1" y="225.7">Au</text>
<text x="143.6" y="309">Al</text>
<text x="316.1" y="309.8">Al</text></g>
<g class="pl"><text transform="translate(27.19,18.63) scale(1.3276,1.1629)" font-size="20">(</text>
<text transform="translate(39.90,17.33) scale(1.0545,1.0783)" font-size="20">a</text>
<text transform="translate(54.43,18.63) scale(1.3276,1.1629)" font-size="20">)</text>
<text transform="translate(375.46,19.15) scale(1.3448,1.1938)" font-size="20">(</text>
<text transform="translate(388.25,16.87) scale(1.0598,0.9419)" font-size="20">b</text>
<text transform="translate(402.99,19.15) scale(1.4138,1.1938)" font-size="20">)</text>
<text transform="translate(-0.69,219.77) scale(1.2586,1.1461)" font-size="20">(</text>
<text transform="translate(11.85,218.63) scale(1.1146,1.0783)" font-size="20">c</text>
<text transform="translate(24.60,219.77) scale(1.3448,1.1461)" font-size="20">)</text>
<text transform="translate(185.42,221.51) scale(1.3103,1.1685)" font-size="20">(</text>
<text transform="translate(198.02,219.75) scale(1.0342,1.0000)" font-size="20">d</text>
<text transform="translate(212.97,221.51) scale(1.3621,1.1685)" font-size="20">)</text></g>
</svg>
</body></html>
